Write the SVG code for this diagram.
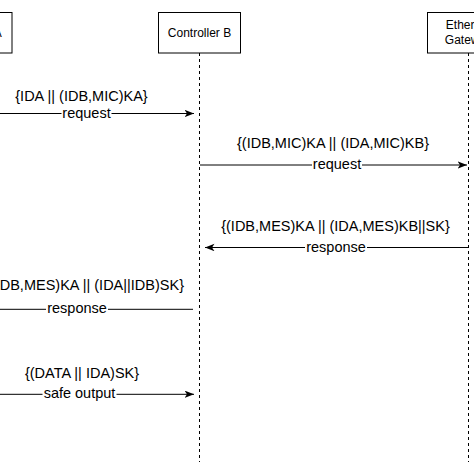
<svg xmlns="http://www.w3.org/2000/svg" width="474" height="474" viewBox="0 0 474 474">
<style>
.box{fill:#fff;stroke:#000;stroke-width:1}
.life{stroke:#000;stroke-width:1;stroke-dasharray:3 3;fill:none}
.msg{stroke:#000;stroke-width:1;fill:none}
.nt{font-family:"Liberation Sans",Arial,sans-serif;font-size:12px;fill:#000;text-anchor:middle}
.lt{font-family:"Liberation Sans",Arial,sans-serif;font-size:14.5px;fill:#000;text-anchor:middle}
.bg{fill:#fff}
</style>
<defs>
<marker id="arr" markerUnits="userSpaceOnUse" markerWidth="10" markerHeight="8" refX="9.5" refY="3.75" orient="auto">
<path d="M0,0 L9.5,3.75 L0,7.5 L2.5,3.75 Z" fill="#000"/>
</marker>
</defs>
<rect width="474" height="474" fill="#fff"/>
<g id="lifelines">
<line class="life" x1="-29.5" y1="53" x2="-29.5" y2="462"/>
<line class="life" x1="199.5" y1="53" x2="199.5" y2="462"/>
<line class="life" x1="468.5" y1="53" x2="468.5" y2="462"/>
</g>
<g id="controllerA">
<rect class="box" x="-71" y="12.5" width="83" height="40.5"/>
<text class="nt" x="-29.5" y="36.8">Controller A</text>
</g>
<g id="controllerB">
<rect class="box" x="158.5" y="12.5" width="82" height="40.5"/>
<text class="nt" x="199.5" y="36.8">Controller B</text>
</g>
<g id="gateway">
<rect class="box" x="427.5" y="12.5" width="82" height="40.5"/>
<text class="nt" x="468.5" y="29">Ethernet</text>
<text class="nt" x="468.5" y="43.5">Gateway</text>
</g>
<g id="connectors">
<line class="msg" x1="-29.5" y1="113.5" x2="194" y2="113.5" marker-end="url(#arr)"/>
<line class="msg" x1="200" y1="165" x2="467" y2="165" marker-end="url(#arr)"/>
<line class="msg" x1="468.5" y1="247.5" x2="205" y2="247.5" marker-end="url(#arr)"/>
<line class="msg" x1="193" y1="309.3" x2="-29.5" y2="309.3" marker-end="url(#arr)"/>
<line class="msg" x1="-29.5" y1="394.3" x2="194" y2="394.3" marker-end="url(#arr)"/>
</g>
<g id="labels">
<text class="lt" x="81.5" y="100.7">{IDA || (IDB,MIC)KA}</text>
<rect class="bg" x="61.5" y="105" width="50" height="16"/>
<text class="lt" x="86.5" y="117.8">request</text>

<text class="lt" x="333" y="148.3">{(IDB,MIC)KA || (IDA,MIC)KB}</text>
<rect class="bg" x="312" y="156.5" width="50" height="16"/>
<text class="lt" x="337" y="169.2">request</text>

<text class="lt" x="335.5" y="230.7">{(IDB,MES)KA || (IDA,MES)KB||SK}</text>
<rect class="bg" x="305" y="239" width="62" height="16"/>
<text class="lt" x="336" y="251.6">response</text>

<text class="lt" x="184" y="290" style="text-anchor:end">{(IDB,MES)KA || (IDA||IDB)SK}</text>
<rect class="bg" x="46" y="301" width="62" height="16"/>
<text class="lt" x="77" y="313.4">response</text>

<text class="lt" x="82" y="378">{(DATA || IDA)SK}</text>
<rect class="bg" x="42.5" y="386" width="74" height="16"/>
<text class="lt" x="79.5" y="398.4">safe output</text>
</g>
</svg>
